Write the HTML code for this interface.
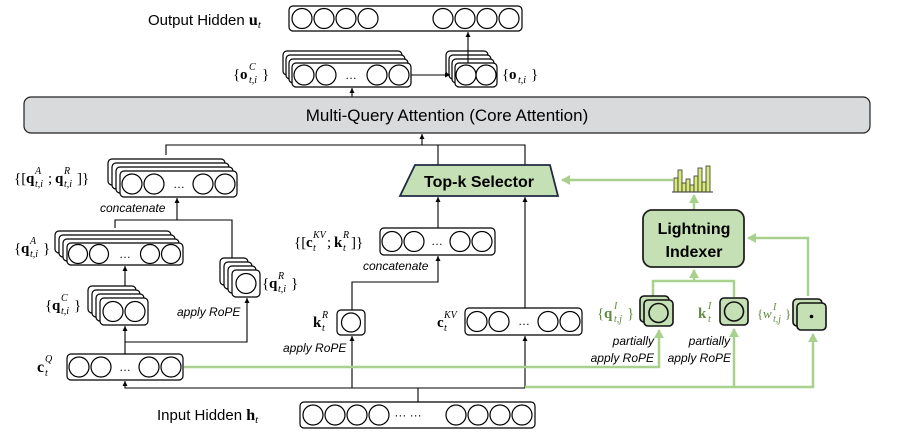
<!DOCTYPE html>
<html><head><meta charset="utf-8"><style>
html,body{margin:0;padding:0;background:#fff;}
svg{display:block}
.s{font-family:"Liberation Sans","DejaVu Sans",sans-serif}
.m{font-family:"Liberation Serif",serif}
.b{font-weight:bold}
.i{font-style:italic;font-size:10px}
.it{font-family:"Liberation Sans",sans-serif;font-style:italic;font-size:12px}
.g{fill:#5f8a3e}
</style></head><body>
<svg width="897" height="435" viewBox="0 0 897 435" xmlns="http://www.w3.org/2000/svg">
<defs>
<marker id="a" markerWidth="6" markerHeight="6" refX="5" refY="3" orient="auto" markerUnits="userSpaceOnUse"><path d="M0,0.5 L5,3 L0,5.5z" fill="#000"/></marker>
<marker id="ga" markerWidth="10" markerHeight="10" refX="8" refY="5" orient="auto" markerUnits="userSpaceOnUse"><path d="M0,0 L9,5 L0,10z" fill="#a9d18e"/></marker>
</defs>
<g fill="#fff" stroke="#000" stroke-width="1.2">
<rect x="289" y="6" width="233" height="25" rx="4"/>
<circle cx="302" cy="18.5" r="10"/><circle cx="324" cy="18.5" r="10"/><circle cx="346" cy="18.5" r="10"/><circle cx="368" cy="18.5" r="10"/>
<circle cx="443" cy="18.5" r="10"/><circle cx="465" cy="18.5" r="10"/><circle cx="487" cy="18.5" r="10"/><circle cx="509" cy="18.5" r="10"/>
<rect x="283" y="51" width="119" height="24" rx="4"/><rect x="286" y="55" width="119" height="24" rx="4"/><rect x="289" y="59" width="119" height="24" rx="4"/>
<rect x="292" y="63" width="119" height="24" rx="4"/>
<circle cx="304" cy="75" r="10"/><circle cx="326" cy="75" r="10"/><circle cx="377" cy="75" r="10"/><circle cx="399" cy="75" r="10"/>
<rect x="446" y="51" width="42" height="24" rx="4"/><rect x="449" y="55" width="42" height="24" rx="4"/><rect x="452" y="59" width="42" height="24" rx="4"/>
<rect x="455" y="63" width="42" height="24" rx="4"/>
<circle cx="466" cy="75" r="10"/><circle cx="486" cy="75" r="10"/>
</g>
<text x="148" y="25" class="s" font-size="15">Output Hidden <tspan class="m b" font-size="16">u</tspan><tspan class="m" font-style="italic" font-size="11" dy="3">t</tspan></text>
<text class="m" font-size="15"><tspan x="233" y="79">{</tspan><tspan x="240" y="79" class="b">o</tspan><tspan x="249" y="70" class="i">C</tspan><tspan x="249" y="83" class="i">t,i</tspan><tspan x="262" y="79">}</tspan></text>
<text class="m" font-size="15"><tspan x="502" y="79">{</tspan><tspan x="509" y="79" class="b">o</tspan><tspan x="518" y="83" class="i">t,i</tspan><tspan x="531" y="79">}</tspan></text>
<text x="351" y="79" font-size="12" class="s" text-anchor="middle">…</text>
<g stroke="#000" stroke-width="1.1" fill="none">
<line x1="411" y1="75" x2="450" y2="75" marker-end="url(#a)"/>
<line x1="468" y1="63" x2="468" y2="32" marker-end="url(#a)"/>
<line x1="352" y1="97" x2="352" y2="88" marker-end="url(#a)"/>
</g>
<rect x="24" y="97" width="846" height="36" rx="7" fill="#d9dadc" stroke="#222" stroke-width="1.2"/>
<text x="447" y="121" text-anchor="middle" class="s" font-size="17">Multi-Query Attention (Core Attention)</text>
<g stroke="#000" stroke-width="1.1" fill="none">
<polyline points="166,155 166,145 525,145 525,165"/>
<line x1="422" y1="145" x2="422" y2="134" marker-end="url(#a)"/>
<line x1="438" y1="145" x2="438" y2="165"/>
<line x1="177" y1="220" x2="177" y2="198" marker-end="url(#a)"/>
<polyline points="115,228 115,220 232,220 232,260"/>
<line x1="125" y1="287" x2="125" y2="266" marker-end="url(#a)"/>
<line x1="125" y1="354" x2="125" y2="326" marker-end="url(#a)"/>
<polyline points="125,342 247,342 247,298" marker-end="url(#a)"/>
<polyline points="418,402 418,388"/>
<polyline points="525,388 125,388 125,381" marker-end="url(#a)"/>
<line x1="352" y1="388" x2="352" y2="336" marker-end="url(#a)"/>
<line x1="525" y1="388" x2="525" y2="336" marker-end="url(#a)"/>
<polyline points="352,310 352,282 438,282 438,256" marker-end="url(#a)"/>
<line x1="438" y1="228" x2="438" y2="197" marker-end="url(#a)"/>
<line x1="525" y1="308" x2="525" y2="197" marker-end="url(#a)"/>
</g>
<g stroke="#a9d18e" stroke-width="2.5" fill="none">
<polyline points="184,367 659,367 659,330" marker-end="url(#ga)"/>
<polyline points="525,387 813,387 813,334" marker-end="url(#ga)"/>
<line x1="734" y1="387" x2="734" y2="329" marker-end="url(#ga)"/>
<polyline points="653,297 653,281 734,281 734,297"/>
<line x1="694" y1="281" x2="694" y2="270" marker-end="url(#ga)"/>
<polyline points="808,296 808,238 748,238" marker-end="url(#ga)"/>
<line x1="694" y1="210" x2="694" y2="195" marker-end="url(#ga)"/>
<line x1="673" y1="180" x2="562" y2="180" marker-end="url(#ga)"/>
</g>
<polygon points="415,165 550,165 558,196 400,196" fill="#c5e0b4" stroke="#1f2a44" stroke-width="1.8"/>
<text x="479" y="187" text-anchor="middle" class="s b" font-size="16">Top-k Selector</text>
<g fill="#d9ea7a" stroke="#333" stroke-width="0.8">
<rect x="674" y="178" width="4" height="14"/><rect x="678" y="170" width="4" height="22"/><rect x="682" y="183" width="4" height="9"/><rect x="686" y="179" width="4" height="13"/><rect x="690" y="185" width="4" height="7"/><rect x="694" y="176" width="4" height="16"/><rect x="698" y="168" width="4" height="24"/><rect x="702" y="182" width="4" height="10"/><rect x="706" y="166" width="4" height="26"/>
</g>
<line x1="672" y1="192" x2="713" y2="192" stroke="#333" stroke-width="1"/>
<rect x="643" y="210" width="101" height="57" rx="9" fill="#c5e0b4" stroke="#222" stroke-width="1.8"/>
<text x="694" y="234" text-anchor="middle" class="s b" font-size="16">Lightning</text>
<text x="694" y="257" text-anchor="middle" class="s b" font-size="16">Indexer</text>
<g fill="#c5e0b4" stroke="#111" stroke-width="1.6">
<rect x="640" y="296" width="29" height="26" rx="4"/><rect x="644" y="300" width="29" height="26" rx="4"/>
<rect x="720" y="298" width="28" height="27" rx="4"/>
<rect x="793" y="299" width="29" height="27" rx="4"/><rect x="797" y="303" width="29" height="27" rx="4"/>
<circle cx="658.5" cy="313" r="9.5"/><circle cx="734" cy="311.5" r="9.5"/>
</g>
<circle cx="811.5" cy="316.5" r="1.8" fill="#000"/>
<text class="m g" font-size="15"><tspan x="597" y="318">{</tspan><tspan x="604" y="318" class="b">q</tspan><tspan x="614" y="309" class="i">I</tspan><tspan x="614" y="322" class="i">t,j</tspan><tspan x="627" y="318">}</tspan></text>
<text class="m g" font-size="15"><tspan x="698" y="318" class="b">k</tspan><tspan x="708" y="309" class="i">I</tspan><tspan x="708" y="322" class="i">t</tspan></text>
<text class="m g" font-size="13"><tspan x="757" y="318">{</tspan><tspan x="763" y="318" font-style="italic">w</tspan><tspan x="773" y="310" class="i" font-size="9">I</tspan><tspan x="773" y="322" class="i" font-size="9">t,j</tspan><tspan x="785" y="318">}</tspan></text>
<text x="654" y="345" text-anchor="end" class="it">partially</text>
<text x="654" y="362" text-anchor="end" class="it">apply RoPE</text>
<text x="730" y="345" text-anchor="end" class="it">partially</text>
<text x="731" y="362" text-anchor="end" class="it">apply RoPE</text>
<g fill="#fff" stroke="#000" stroke-width="1.2">
<rect x="108" y="159" width="117" height="26" rx="4"/><rect x="112" y="163" width="117" height="26" rx="4"/><rect x="116" y="167" width="117" height="26" rx="4"/>
<rect x="120" y="171" width="117" height="26" rx="4"/>
<circle cx="132" cy="184" r="10"/><circle cx="154" cy="184" r="10"/><circle cx="203" cy="184" r="10"/><circle cx="225" cy="184" r="10"/>
<rect x="55" y="231" width="116" height="22" rx="4"/><rect x="59" y="235" width="116" height="22" rx="4"/><rect x="63" y="239" width="116" height="22" rx="4"/>
<rect x="67" y="243" width="116" height="22" rx="4"/>
<circle cx="78" cy="254" r="9.5"/><circle cx="99" cy="254" r="9.5"/><circle cx="150" cy="254" r="9.5"/><circle cx="171" cy="254" r="9.5"/>
<rect x="88" y="286" width="48" height="27" rx="4"/><rect x="92" y="290" width="48" height="27" rx="4"/><rect x="96" y="294" width="48" height="27" rx="4"/>
<rect x="100" y="298" width="48" height="27" rx="4"/>
<circle cx="113" cy="311.5" r="10"/><circle cx="135" cy="311.5" r="10"/>
<rect x="220" y="258" width="28" height="27" rx="4"/><rect x="224" y="262" width="28" height="27" rx="4"/><rect x="228" y="266" width="28" height="27" rx="4"/>
<rect x="232" y="270" width="28" height="27" rx="4"/>
<circle cx="246" cy="283.5" r="10"/>
<rect x="67" y="354" width="116" height="26" rx="4"/>
<circle cx="79" cy="367" r="10"/><circle cx="101" cy="367" r="10"/><circle cx="149" cy="367" r="10"/><circle cx="171" cy="367" r="10"/>
<rect x="380" y="228" width="115" height="27" rx="4"/>
<circle cx="392" cy="241.5" r="10"/><circle cx="414" cy="241.5" r="10"/><circle cx="460" cy="241.5" r="10"/><circle cx="482" cy="241.5" r="10"/>
<rect x="337" y="310" width="28" height="25" rx="4"/><circle cx="351" cy="322.5" r="9.5"/>
<rect x="465" y="308" width="117" height="27" rx="4"/>
<circle cx="477" cy="321.5" r="10"/><circle cx="499" cy="321.5" r="10"/><circle cx="548" cy="321.5" r="10"/><circle cx="570" cy="321.5" r="10"/>
<rect x="300" y="402" width="235" height="26" rx="4"/>
<circle cx="313" cy="415" r="10"/><circle cx="335" cy="415" r="10"/><circle cx="357" cy="415" r="10"/><circle cx="379" cy="415" r="10"/>
<circle cx="456" cy="415" r="10"/><circle cx="478" cy="415" r="10"/><circle cx="500" cy="415" r="10"/><circle cx="522" cy="415" r="10"/>
</g>
<g class="s" font-size="12" text-anchor="middle">
<text x="179" y="188">…</text><text x="125" y="258">…</text><text x="437" y="245">…</text>
<text x="125" y="371">…</text><text x="524" y="325">…</text><text x="408" y="419">··· ···</text>
</g>
<text class="m" font-size="15"><tspan x="14" y="183">{[</tspan><tspan x="26" y="183" class="b">q</tspan><tspan x="35" y="174" class="i">A</tspan><tspan x="35" y="187" class="i">t,i</tspan><tspan x="48" y="183">;</tspan><tspan x="55" y="183" class="b">q</tspan><tspan x="64" y="174" class="i">R</tspan><tspan x="64" y="187" class="i">t,i</tspan><tspan x="77" y="183">]}</tspan></text>
<text x="100" y="212" class="it">concatenate</text>
<text class="m" font-size="15"><tspan x="14" y="253">{</tspan><tspan x="21" y="253" class="b">q</tspan><tspan x="30" y="244" class="i">A</tspan><tspan x="30" y="257" class="i">t,i</tspan><tspan x="43" y="253">}</tspan></text>
<text class="m" font-size="15"><tspan x="45" y="310">{</tspan><tspan x="52" y="310" class="b">q</tspan><tspan x="61" y="301" class="i">C</tspan><tspan x="61" y="314" class="i">t,i</tspan><tspan x="74" y="310">}</tspan></text>
<text class="m" font-size="15"><tspan x="262" y="288">{</tspan><tspan x="269" y="288" class="b">q</tspan><tspan x="278" y="279" class="i">R</tspan><tspan x="278" y="292" class="i">t,i</tspan><tspan x="291" y="288">}</tspan></text>
<text x="177" y="316" class="it">apply RoPE</text>
<text class="m" font-size="16"><tspan x="37" y="372" class="b">c</tspan><tspan x="45" y="362" class="i">Q</tspan><tspan x="45" y="376" class="i">t</tspan></text>
<text class="m" font-size="15"><tspan x="294" y="247">{[</tspan><tspan x="306" y="247" class="b">c</tspan><tspan x="313" y="238" class="i">KV</tspan><tspan x="313" y="251" class="i">t</tspan><tspan x="327" y="247">;</tspan><tspan x="334" y="247" class="b">k</tspan><tspan x="343" y="238" class="i">R</tspan><tspan x="343" y="251" class="i">t</tspan><tspan x="351" y="247">]}</tspan></text>
<text x="363" y="270" class="it">concatenate</text>
<text class="m" font-size="15"><tspan x="313" y="327" class="b">k</tspan><tspan x="322" y="318" class="i">R</tspan><tspan x="322" y="331" class="i">t</tspan></text>
<text x="283" y="352" class="it">apply RoPE</text>
<text class="m" font-size="15"><tspan x="437" y="327" class="b">c</tspan><tspan x="444" y="318" class="i">KV</tspan><tspan x="444" y="331" class="i">t</tspan></text>
<text x="157" y="420" class="s" font-size="15">Input Hidden <tspan class="m b" font-size="16">h</tspan><tspan class="m" font-style="italic" font-size="11" dy="3">t</tspan></text>
</svg>
</body></html>
